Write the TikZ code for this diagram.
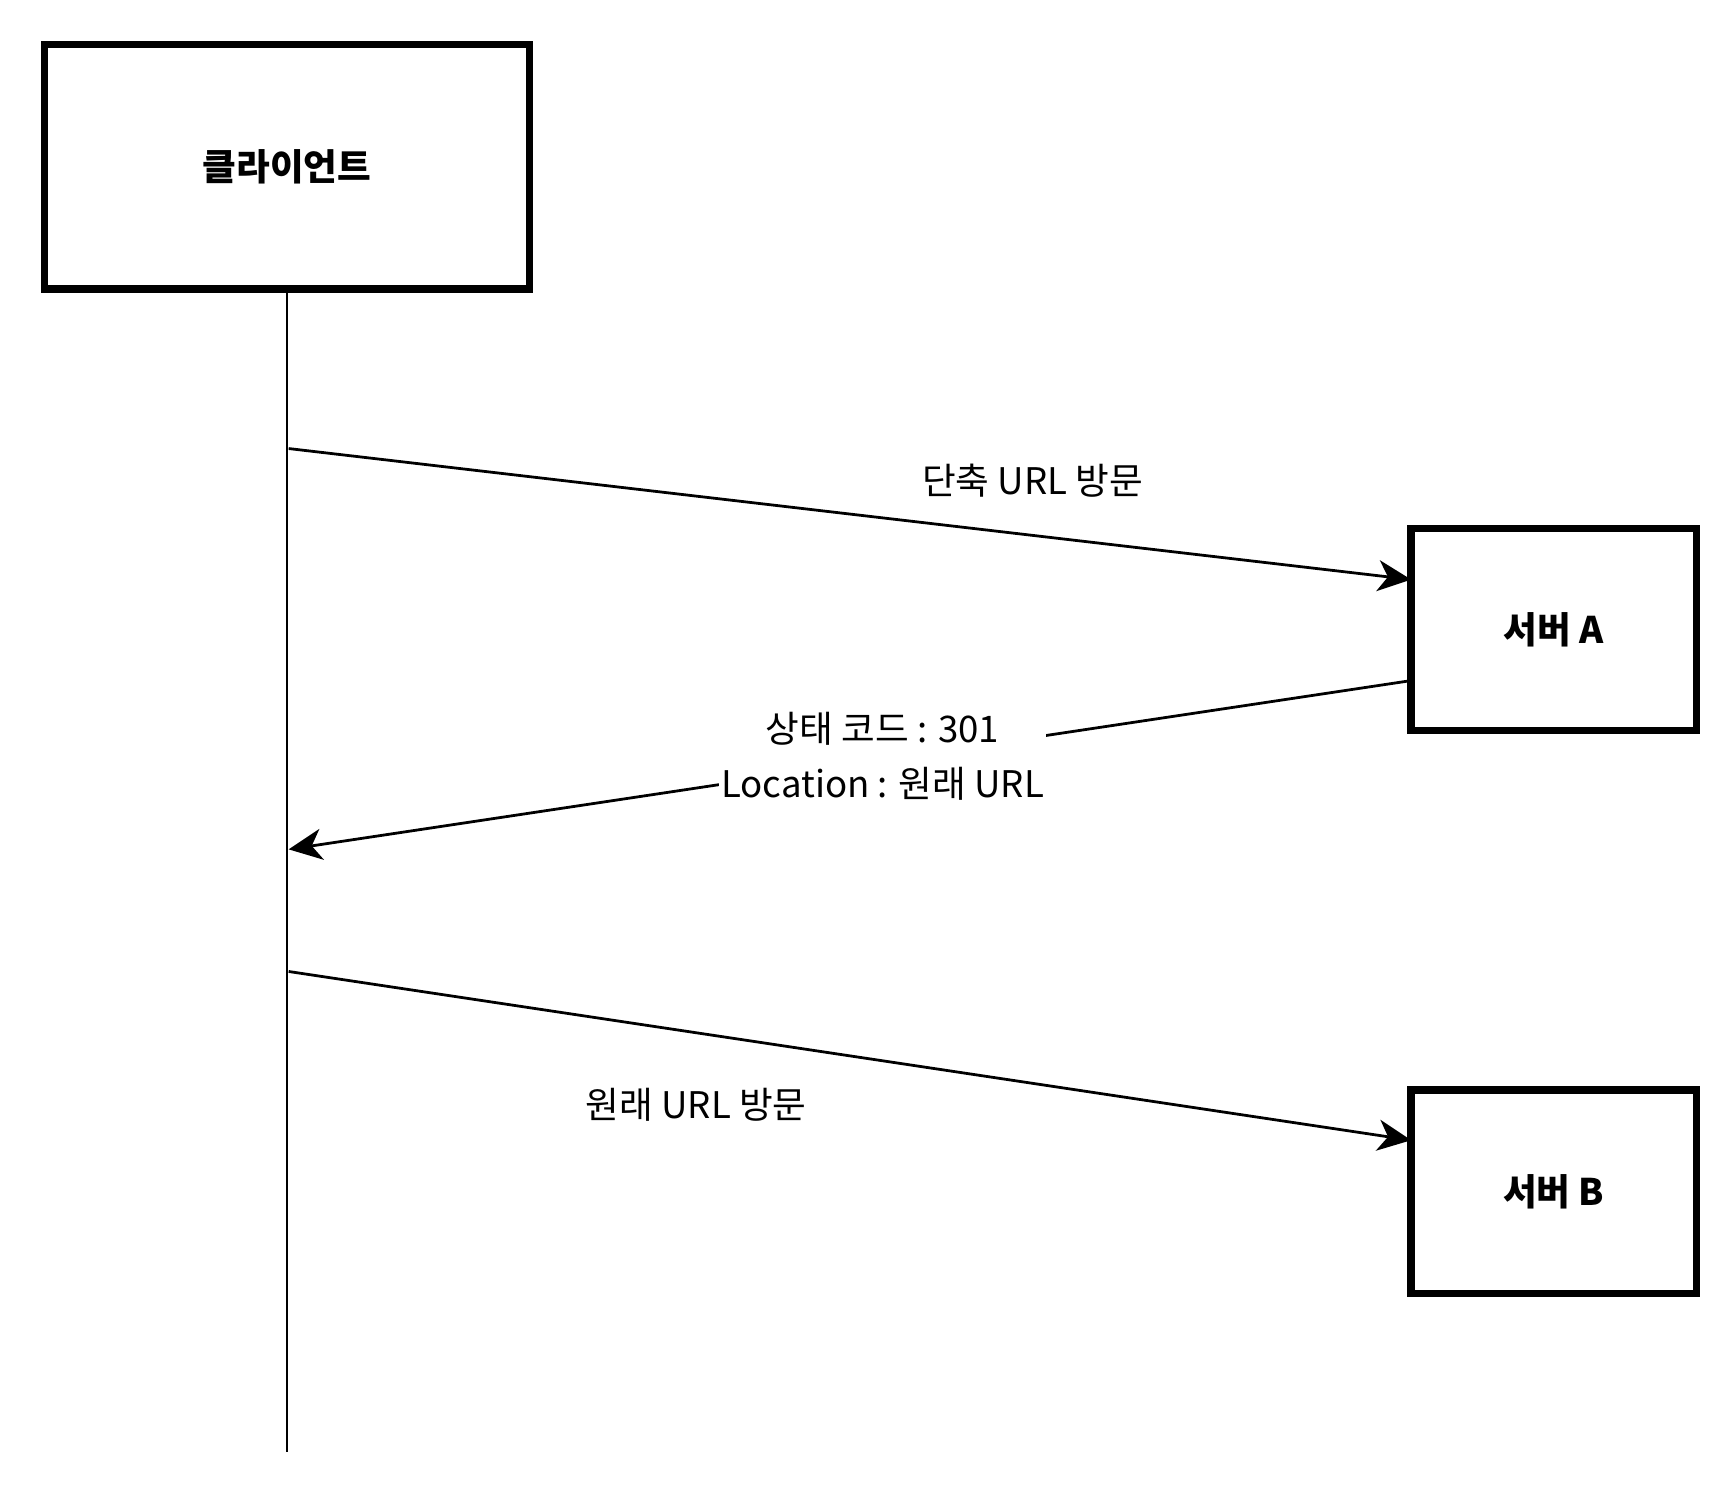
\documentclass[tikz,border=0pt]{standalone}
\usepackage{fontspec}
\setmainfont{Noto Sans CJK KR}
\usetikzlibrary{arrows.meta}
\begin{document}
\begin{tikzpicture}[x=1pt,y=-1pt,
  box/.style={draw,line width=7pt,inner sep=0pt,font=\fontsize{33}{40}\selectfont\bfseries},
  msg/.style={line width=2.5pt,-{Stealth[length=30pt,width=28pt,inset=9pt]}},
  lbl/.style={font=\fontsize{33}{50}\selectfont,align=center}]
\useasboundingbox (0,0) rectangle (1560,1344);
\node[box,minimum width=437pt,minimum height=220pt] (client) at (258.5,150) {클라이언트};
\node[box,minimum width=257pt,minimum height=182pt] (sa) at (1399.5,567) {서버 A};
\node[box,minimum width=257pt,minimum height=183pt] (sb) at (1399.5,1073.5) {서버 B};
\coordinate (end) at (258.5,1308);
\draw[line width=2.5pt] (client.south) -- (end);
\coordinate (a1) at (260,404); \coordinate (a2) at (1271,522);
\coordinate (b1) at (1271,613); \coordinate (b2) at (260,765);
\coordinate (c1) at (260,875); \coordinate (c2) at (1271,1027);
\draw[msg] (a1) -- (a2);
\draw[msg] (b1) -- (b2);
\draw[msg] (c1) -- (c2);
\node[lbl] (l1) at (930,433) {단축 URL 방문};
\node[lbl,fill=white,inner sep=2pt] (l2) at (795,681) {상태 코드 : 301\\Location : 원래 URL};
\node[lbl] (l3) at (627,995) {원래 URL 방문};
\end{tikzpicture}
\end{document}
